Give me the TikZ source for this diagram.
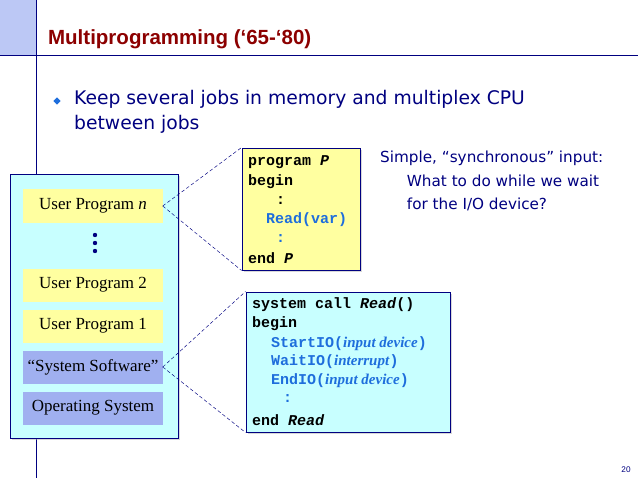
\documentclass[tikz,border=0pt]{standalone}
\usepackage{fontspec}
\setmainfont{Liberation Serif}
\newfontfamily\slidesans{Liberation Sans}
\newfontfamily\comic{DejaVu Sans}
\newfontfamily\codefont{Liberation Mono}
\usetikzlibrary{positioning,shadows,shapes.geometric}
\definecolor{navy}{RGB}{0,0,128}
\definecolor{titlered}{RGB}{140,0,0}
\definecolor{paleyellow}{RGB}{255,255,160}
\definecolor{palecyan}{RGB}{200,255,255}
\definecolor{paleblue}{RGB}{160,176,240}
\definecolor{codeblue}{RGB}{30,110,220}
\tikzset{
  layer/.style={draw=none,minimum width=4.17cm,minimum height=0.99cm,font=\fontsize{14.5}{14.5}\selectfont,drop shadow={shadow xshift=0.8pt,shadow yshift=-0.8pt,fill=black!30}},
  codebox/.style={draw=navy,thick,drop shadow={shadow xshift=2pt,shadow yshift=-2pt,fill=black!30}},
  code/.style={anchor=west,inner sep=0pt,font=\codefont\bfseries\fontsize{12.8}{13}\selectfont},
  zoomline/.style={navy,densely dashed,thin}
}
\begin{document}
\begin{tikzpicture}[x=0.03cm,y=-0.03cm]
\useasboundingbox (0,0) rectangle (638,478);
% slide frame
\fill[paleblue!70] (0,0) rectangle (36,55);
\draw[navy,thick] (36,0) -- (36,478);
\draw[navy,thick] (0,55) -- (638,55);
\node[anchor=west,text=titlered,font=\slidesans\bfseries\fontsize{17.5}{17.5}\selectfont] (title) at (44,39) {Multiprogramming (‘65-‘80)};
\node[fill=codeblue,diamond,inner sep=2pt,scale=0.8] (bullet) at (57,101) {};
\node[anchor=west,text=navy,font=\comic\fontsize{16}{21}\selectfont,align=left] (point) at (70,112) {Keep several jobs in memory and multiplex CPU\\between jobs};

% memory
\node[draw=navy,fill=palecyan,minimum width=5.04cm,minimum height=7.92cm,drop shadow={shadow xshift=2pt,shadow yshift=-2pt,fill=black!30}] (memory) at (94,306) {};
\node[layer,fill=paleyellow] (upn) at (93,206) {User Program \textit{n}};
\node[layer,fill=paleyellow] (up2) at (93,285) {User Program 2};
\node[layer,fill=paleyellow] (up1) at (93,326) {User Program 1};
\node[layer,fill=paleblue] (sys) at (93,367) {“System Software”};
\node[layer,fill=paleblue] (os) at (93,408) {Operating System};
\foreach \y in {235,243,251} \fill[navy] (95,\y) circle (2.2);

% program P
\node[codebox,fill=paleyellow,minimum width=3.54cm,minimum height=3.66cm] (progP) at (301,209) {};
\node[code] (p1) at (248,162) {program \textit{P}};
\node[code] (p2) at (248,182) {begin};
\node[code] (p3) at (276,201) {:};
\node[code,text=codeblue] (p4) at (266,220) {Read(var)};
\node[code,text=codeblue] (p5) at (276,239) {:};
\node[code] (p6) at (248,258) {end \textit{P}};

% system call
\node[codebox,fill=palecyan,minimum width=6.12cm,minimum height=4.2cm] (sysRead) at (348,362) {};
\node[code] (r1) at (252,305) {system call \textit{Read}()};
\node[code] (r2) at (252,324) {begin};
\node[code,text=codeblue] (r3) at (271,344) {StartIO(\textrm{\textit{input device}})};
\node[code,text=codeblue] (r4) at (271,362) {WaitIO(\textrm{\textit{interrupt}})};
\node[code,text=codeblue] (r5) at (271,381) {EndIO(\textrm{\textit{input device}})};
\node[code,text=codeblue] (r6) at (283,399) {:};
\node[code] (r7) at (252,420) {end \textit{Read}};

\draw[zoomline] (upn.east) -- (progP.north west);
\draw[zoomline] (upn.east) -- (progP.south west);
\draw[zoomline] (sys.east) -- (sysRead.north west);
\draw[zoomline] (sys.east) -- (sysRead.south west);

\node[anchor=north west,text=navy,font=\comic\fontsize{13}{20}\selectfont,align=left,inner sep=0pt] (note) at (380,151) {Simple, “synchronous” input:\\\hspace*{0.8cm}What to do while we wait\\\hspace*{0.8cm}for the I/O device?};
\node[text=navy,font=\slidesans\fontsize{7}{7}\selectfont] (page) at (626,470) {20};
\end{tikzpicture}
\end{document}
